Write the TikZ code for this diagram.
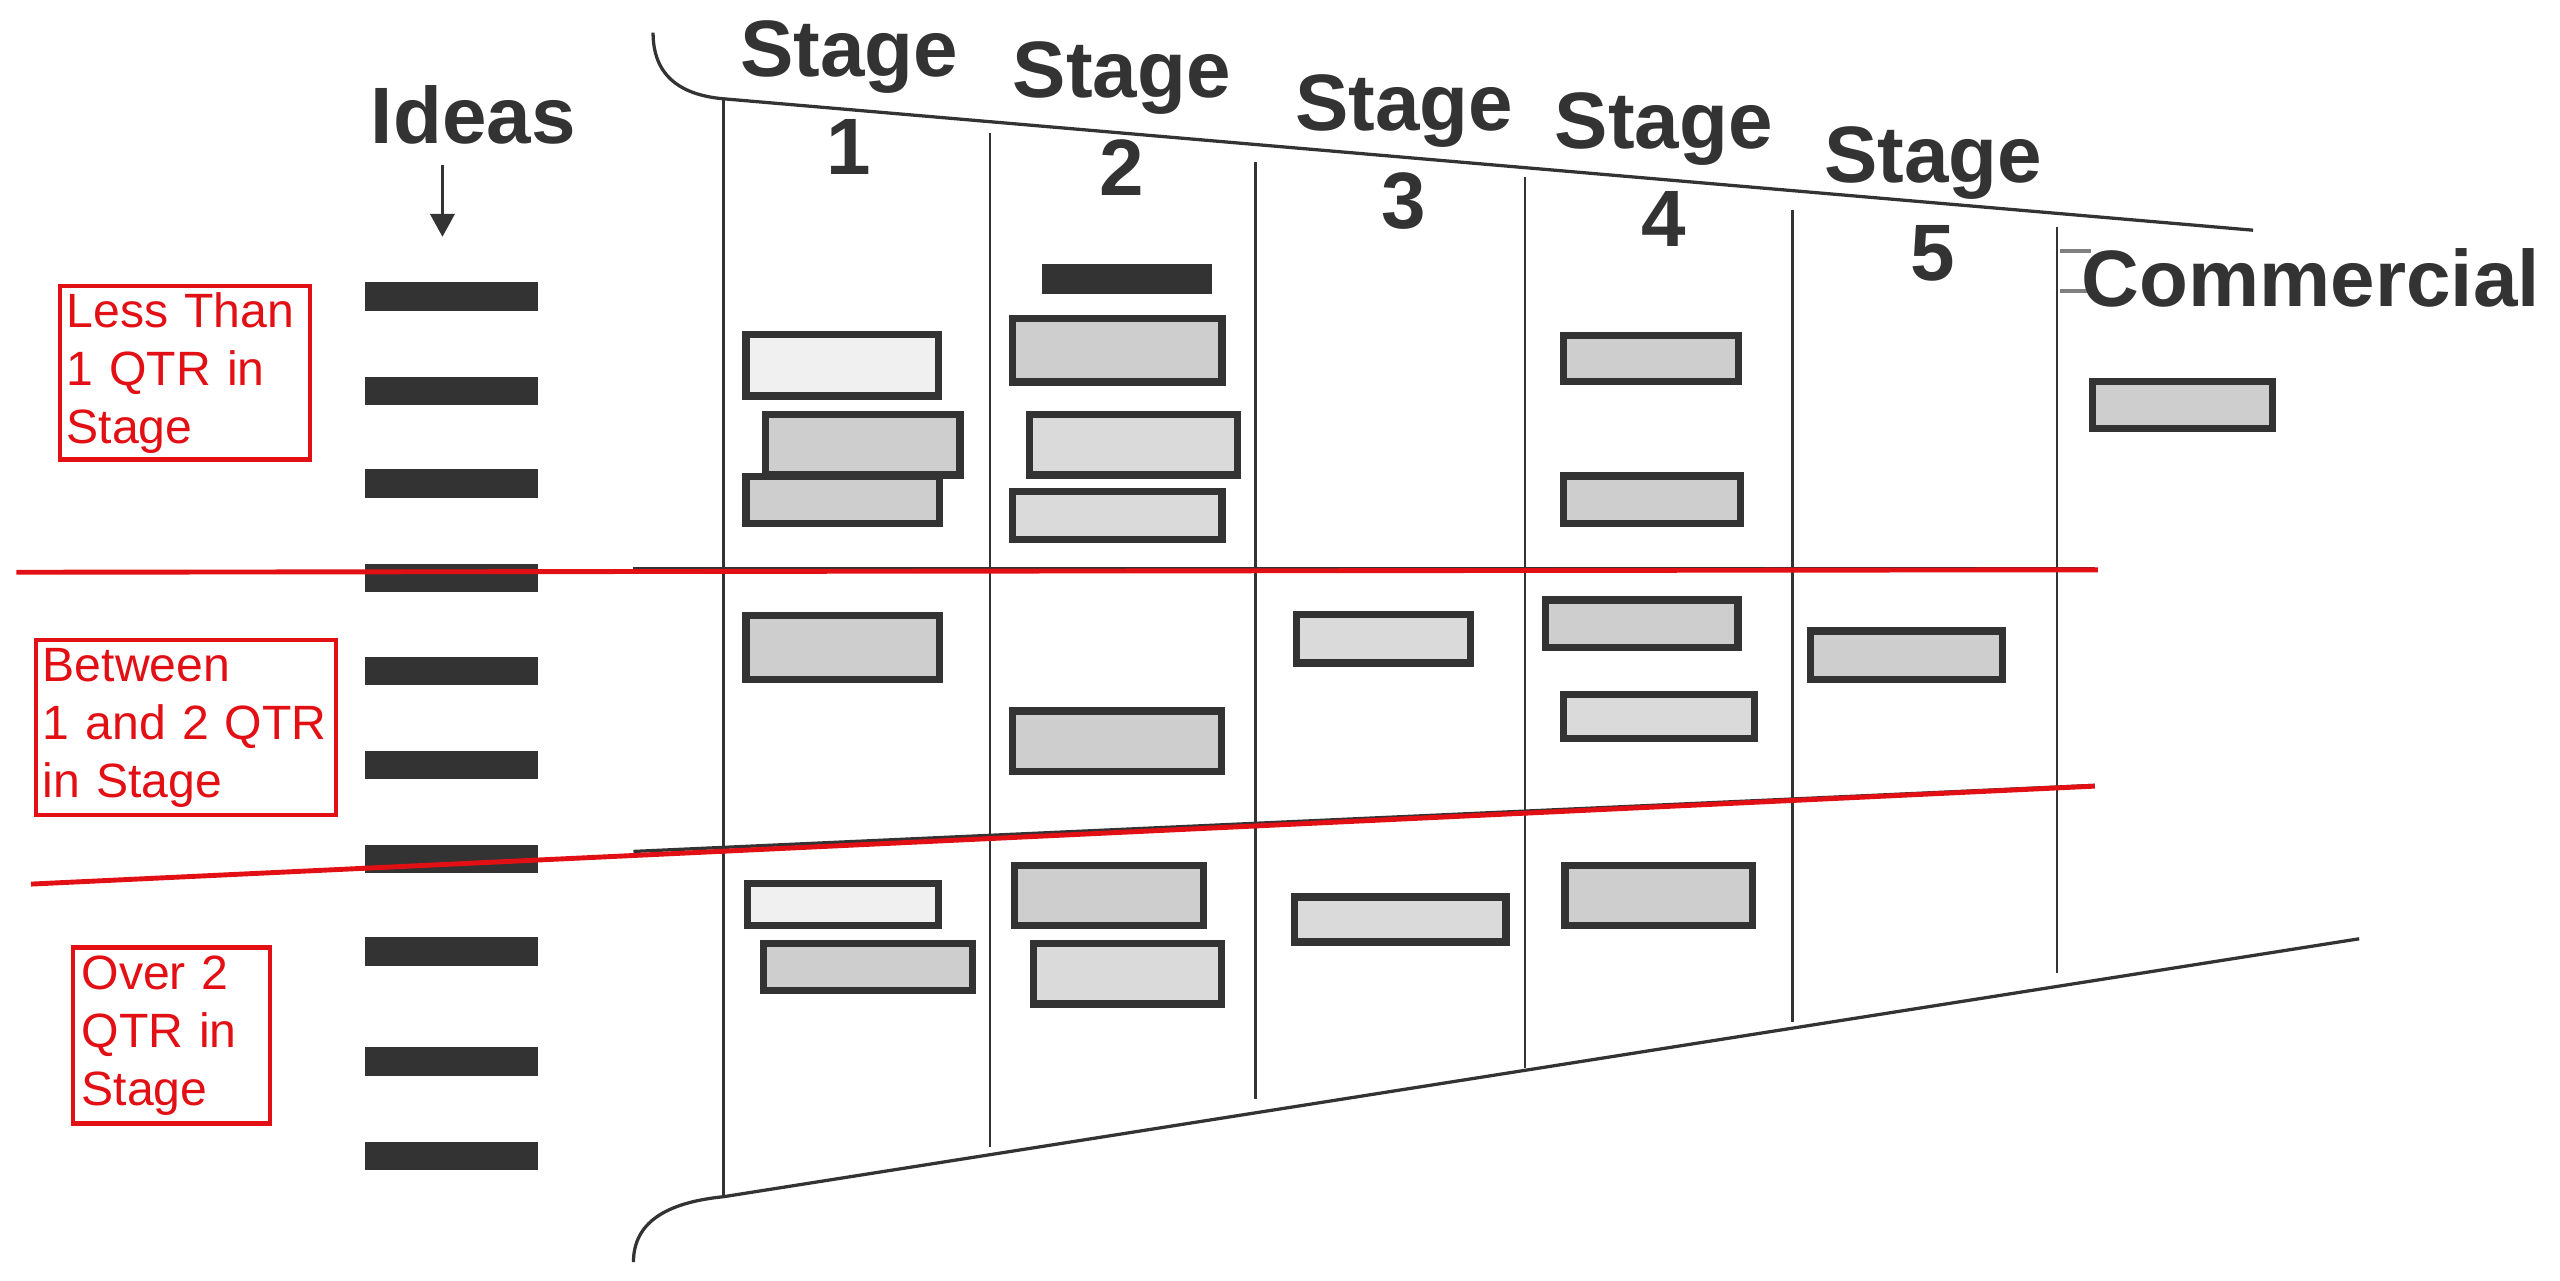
\documentclass[tikz,border=0pt]{standalone}
\usepackage{fontspec}
\setmainfont{Liberation Sans}
\usetikzlibrary{positioning,fit,arrows.meta}
\definecolor{ink}{RGB}{51,51,51}
\definecolor{qred}{RGB}{226,16,20}
\definecolor{cardgray}{RGB}{206,206,206}
\definecolor{cardlight}{RGB}{218,218,218}
\definecolor{cardpale}{RGB}{240,240,240}

\begin{document}
\begin{tikzpicture}[
    x=1pt, y=-1pt,
    heading/.style = {font=\fontsize{49}{58}\selectfont\bfseries, text=ink, inner sep=0pt},
    band/.style = {draw=qred, text=qred, line width=2.5pt, align=left, inner ysep=0pt, anchor=north west, font=\fontsize{29.5}{35.5}\selectfont},
    card/.style = {draw=ink, line width=4.5pt, fill=cardgray, inner sep=0pt},
    lightcard/.style = {card, fill=cardlight},
    palecard/.style = {card, fill=cardpale},
    idea/.style = {fill=ink, minimum width=106pt, minimum height=17.5pt, inner sep=0pt},
    feed/.style = {-{Triangle[width=15pt,length=14pt]}, draw=ink, line width=1.5pt},
    outline/.style = {draw=ink, line width=2pt},
    column/.style = {draw=ink, line width=1.5pt},
    rowline/.style = {draw=ink, line width=2pt},
    cutoff/.style = {draw=qred, line width=3pt},
    stub/.style = {draw=gray, line width=2.5pt}
    ]
    \useasboundingbox[fill=white] (0,0) rectangle (1568,784.6);

    \draw[outline] (400,20) .. controls (400,45) and (415,58) .. (443,60.5) -- (1380,141);
    \draw[outline] (388,773) .. controls (388,752) and (403,737) .. (443,733) -- (1445,575);
    \draw[column] (443,60.5) -- (443,733);
    \draw[column] (606.5,81.6) -- (606.5,702.5);
    \draw[column] (769,99.4) -- (769,673);
    \draw[column] (934,108.2) -- (934,654);
    \draw[column] (1098,128.6) -- (1098,626);
    \draw[column] (1260,138.8) -- (1260,596);
    \draw[stub] (1262,153.5) -- (1281,153.5);
    \draw[stub] (1262,178) -- (1281,178);

    \node[heading, anchor=base west] (ideas) at (227,88) {Ideas};
    \node[heading, anchor=base] (stage1) at (520,47) {Stage};
    \node[heading, anchor=base] (num1) at ([yshift=-60pt]stage1.base) {1};
    \node[heading, anchor=base] (stage2) at (687,60) {Stage};
    \node[heading, anchor=base] (num2) at ([yshift=-60pt]stage2.base) {2};
    \node[heading, anchor=base] (stage3) at (860,80) {Stage};
    \node[heading, anchor=base] (num3) at ([yshift=-60pt]stage3.base) {3};
    \node[heading, anchor=base] (stage4) at (1019,91) {Stage};
    \node[heading, anchor=base] (num4) at ([yshift=-60pt]stage4.base) {4};
    \node[heading, anchor=base] (stage5) at (1184,112) {Stage};
    \node[heading, anchor=base] (num5) at ([yshift=-60pt]stage5.base) {5};
    \node[heading, anchor=base west] (commercial) at (1275,188) {Commercial};

    \coordinate (drop) at (271,101);
    \coordinate (tip) at (271,145);
    \draw[feed] (drop) -- (tip);

    \node[idea] (idea1) at (276.6,181.6) {};
    \node[idea] (idea2) at (276.6,239.6) {};
    \node[idea] (idea3) at (276.6,296) {};
    \node[idea] (idea4) at (276.6,354) {};
    \node[idea] (idea5) at (276.6,411) {};
    \node[idea] (idea6) at (276.6,468.5) {};
    \node[idea] (idea7) at (276.6,526) {};
    \node[idea] (idea8) at (276.6,582.7) {};
    \node[idea] (idea9) at (276.6,650) {};
    \node[idea] (idea10) at (276.6,708) {};

    \node[band, text width=145.3pt, minimum height=106.4pt, inner xsep=4pt] (less) at (35.5,173.8) {Less Than\\1 QTR in\\Stage};
    \node[band, text width=175.3pt, minimum height=107.4pt, inner xsep=4pt] (between) at (21,390.7) {Between\\1 and 2 QTR\\in Stage};
    \node[band, text width=110.4pt, minimum height=107.8pt, inner xsep=5pt] (over) at (43.7,579.1) {Over 2\\QTR in\\Stage};

    \node[palecard, fit={(457,205) (575,242.5)}] (s1a) {};
    \node[card, fit={(457,292) (575.5,320.5)}] (s1c) {};
    \node[card, fit={(469,254) (588,291)}] (s1b) {};
    \node[fill=ink, inner sep=0pt, fit={(638,161.7) (742.2,180.3)}] (s2bar) {};
    \node[card, fit={(620,195) (748.5,234)}] (s2a) {};
    \node[lightcard, fit={(630.5,254) (758,291)}] (s2b) {};
    \node[lightcard, fit={(620,301) (748.5,330.5)}] (s2c) {};
    \node[card, fit={(957.5,205.5) (1065,233.5)}] (s4a) {};
    \node[card, fit={(957.5,291.5) (1066,320.5)}] (s4b) {};
    \node[card, fit={(1281.5,233.5) (1392,262.5)}] (com1) {};

    \node[card, fit={(457,377) (575.5,416)}] (s1d) {};
    \node[card, fit={(620,435.5) (748,472.5)}] (s2d) {};
    \node[lightcard, fit={(794,376.5) (900.5,406)}] (s3a) {};
    \node[card, fit={(946.5,367.5) (1064.5,396.5)}] (s4c) {};
    \node[lightcard, fit={(957.5,425.5) (1074.5,452.5)}] (s4d) {};
    \node[card, fit={(1109,386.5) (1226.5,416)}] (s5a) {};

    \node[palecard, fit={(458,541) (575,567)}] (s1e) {};
    \node[card, fit={(467.5,578) (595.5,606.5)}] (s1f) {};
    \node[card, fit={(621.5,530) (737,567)}] (s2e) {};
    \node[lightcard, fit={(633,578) (748,615)}] (s2f) {};
    \node[lightcard, fit={(793,549.5) (922.5,577)}] (s3b) {};
    \node[card, fit={(958.5,530) (1073.5,567)}] (s4e) {};

    \draw[rowline] (388,348) -- (1283,348);
    \draw[cutoff] (10,350.5) -- (1285,349);
    \draw[rowline] (388,521.5) -- (1283,481);
    \draw[cutoff] (19,541.5) -- (1283,481.5);
\end{tikzpicture}
\end{document}
